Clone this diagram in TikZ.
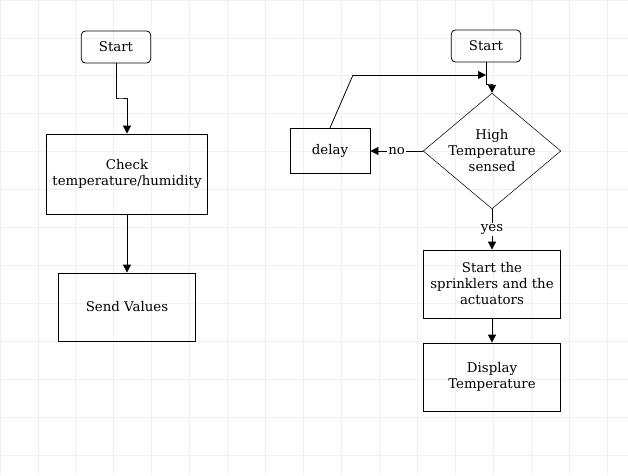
\documentclass[tikz,border=0pt]{standalone}
\usepackage{fontspec}
\setmainfont{DejaVu Serif}
\usetikzlibrary{arrows.meta, positioning, shapes.geometric}

\tikzset{
   box/.style = {draw, semithick, minimum width=#1, align=center, inner sep=1pt, font=\fontsize{10}{12}\selectfont},
   term/.style = {box=52pt, rounded corners=3pt, minimum height=24pt},
   step/.style = {box=#1, minimum height=51pt},
   test/.style = {draw, diamond, aspect=1.19, inner sep=0pt, align=center, font=\fontsize{10}{12}\selectfont},
   flow/.style = {semithick, -{Triangle[length=6pt, width=6pt]}}
}

\begin{document}
\begin{tikzpicture}[x=0.75pt, y=-0.75pt]
   \useasboundingbox (0,0) rectangle (628,475);
   \draw[gray!12, step=15pt] (0,0) grid (628,475);

   % left flow
   \node[term]  (startL) at (116,47)  {Start};
   \node[box=121pt, minimum height=60pt] (check) at (127,174) {Check\\temperature/humidity};
   \node[step=103pt] (send) at (127,307) {Send Values};

   % right flow
   \node[term]  (startR) at (486,46)  {Start};
   \node[test]  (high)   at (492,151) {High\\Temperature\\sensed};
   \node[box=60pt, minimum height=34pt] (delay) at (330,151) {delay};
   \node[step=103pt] (spray) at (492,284) {Start the\\sprinklers and the\\actuators};
   \node[step=103pt] (show) at (492,377) {Display\\Temperature};
   \coordinate (kink) at (353,75);

   \draw[flow] (startL.south) |- (120,98) -| (check.north);
   \draw[flow] (check) -- (send);
   \draw[flow] (startR.south) |- (490,84) -| (high.north);
   \draw[semithick] (delay.north) -- (kink);
   \draw[flow] (kink) -- (kink -| startR.south);
   \draw[flow] (high.west) -- node[fill=white, inner sep=1pt, font=\fontsize{10}{12}\selectfont]{no} (delay.east);
   \draw[flow] (high.south) -- node[fill=white, inner sep=1pt, font=\fontsize{10}{12}\selectfont]{yes} (spray.north);
   \draw[flow] (spray) -- (show);
\end{tikzpicture}
\end{document}
